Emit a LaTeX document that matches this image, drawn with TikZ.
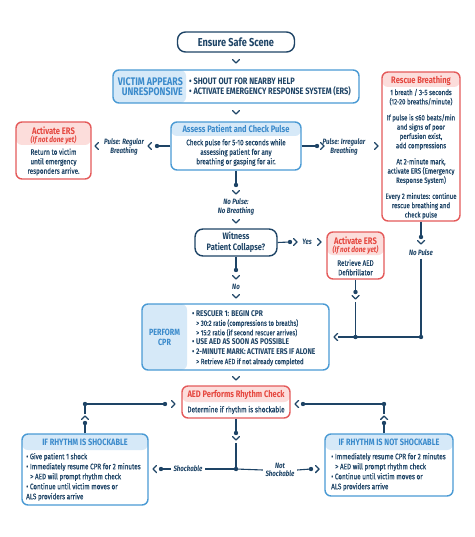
\documentclass[tikz,border=0pt]{standalone}
\usepackage{fontspec}
\setmainfont{Fira Sans}[FakeStretch=0.8]
\newfontfamily\bodyfont{Fira Sans}[FakeStretch=0.8, FakeBold=0.7]
\usetikzlibrary{positioning}
\definecolor{navy}{HTML}{1E4466}
\definecolor{bluebrd}{HTML}{4A9AD4}
\definecolor{bluetxt}{HTML}{3A8ACB}
\definecolor{bluefill}{HTML}{D6E9F8}
\definecolor{redbrd}{HTML}{E45A5A}
\definecolor{redtxt}{HTML}{E5473F}
\definecolor{redfill}{HTML}{FCDDDB}
\tikzset{
  basebox/.style={line width=1.4pt, rounded corners=6pt, fill=white, inner sep=0pt},
  navybox/.style={basebox, draw=navy, rounded corners=8pt, text=navy, align=center},
  bluebox/.style={basebox, draw=bluebrd},
  redbox/.style={basebox, draw=redbrd},
  tophead/.style 2 args={path picture={\fill[#1] (path picture bounding box.north west) rectangle ([yshift=-#2]path picture bounding box.north east);}},
  lefthead/.style 2 args={path picture={\fill[#1] (path picture bounding box.north west) rectangle ([xshift=#2]path picture bounding box.south west);}},
  hd/.style={inner sep=0pt, align=center, font=\bfseries\fontsize{9.4}{10}\selectfont},
  tx/.style={inner sep=0pt, align=center, text=navy, font=\bodyfont\fontsize{7.9}{9.5}\selectfont},
  lbl/.style={inner sep=2.5pt, align=center, text=navy, font=\bfseries\itshape\fontsize{7.7}{8.5}\selectfont},
  conn/.style={draw=navy, line width=1.1pt},
  chev/.style={draw=navy, line width=1.4pt, line cap=round, line join=round}
}
\begin{document}
\begin{tikzpicture}[x=1pt,y=1pt]
  \useasboundingbox (0,0) rectangle (474,-537);
  % boxes
  \node[navybox, minimum width=117pt, minimum height=20pt, font=\bfseries\fontsize{11.5}{12}\selectfont] (safe) at (236,-42) {Ensure Safe Scene};
  \node[bluebox, lefthead={bluefill}{73pt}, minimum width=246pt, minimum height=33pt] (victim) at (236,-86.5) {};
  \node[hd, text=bluetxt, anchor=east, align=right, font=\bfseries\fontsize{11}{10}\selectfont] (victimhd) at (183,-87) {VICTIM APPEARS\\UNRESPONSIVE};
  \node[tx, anchor=west, align=left, font=\bfseries\fontsize{9.3}{10}\selectfont] (victimtx) at (189,-87) {• SHOUT OUT FOR NEARBY HELP\\• ACTIVATE EMERGENCY RESPONSE SYSTEM (ERS)};
  \node[bluebox, tophead={bluefill}{14pt}, minimum width=130pt, minimum height=48pt] (assess) at (236,-146) {};
  \node[hd, text=bluetxt] (assesshd) at (236,-129) {Assess Patient and Check Pulse};
  \node[tx] (assesstx) at (236,-152.5) {Check pulse for 5-10 seconds while\\assessing patient for any\\breathing or gasping for air.};
  \node[redbox, tophead={redfill}{23pt}, minimum width=75pt, minimum height=57pt] (ers1) at (53.5,-150.5) {};
  \node[hd, text=redtxt, font=\bfseries\fontsize{9.5}{10}\selectfont] (ers1hd) at (53.5,-131) {Activate ERS};
  \node[lbl, inner sep=0pt, text=redtxt, font=\bfseries\itshape\fontsize{8}{8}\selectfont] (ers1sub) at (53.5,-139.5) {(If not done yet)};
  \node[tx] (ers1tx) at (53.5,-162) {Return to victim\\until emergency\\responders arrive.};
  \node[redbox, tophead={redfill}{15pt}, minimum width=78pt, minimum height=149pt] (rescue) at (421,-146.5) {};
  \node[hd, text=redtxt] (rescuehd) at (421,-80.5) {Rescue Breathing};
  \node[tx, font=\bodyfont\fontsize{7.6}{9.3}\selectfont] (rescuetx) at (421,-154) {1 breath / 3-5 seconds\\(12-20 breaths/minute)\\[6.7pt]If pulse is ≤60 beats/min\\and signs of poor\\perfusion exist,\\add compressions\\[6.7pt]At 2-minute mark,\\activate ERS (Emergency\\Response System)\\[6.7pt]Every 2 minutes: continue\\rescue breathing and\\check pulse};
  \node[navybox, minimum width=82pt, minimum height=27pt, font=\bfseries\fontsize{9.3}{11}\selectfont] (witness) at (236,-242.5) {Witness\\Patient Collapse?};
  \node[redbox, tophead={redfill}{23pt}, minimum width=57pt, minimum height=47pt] (ers2) at (355.5,-255.5) {};
  \node[hd, text=redtxt, font=\bfseries\fontsize{9.5}{10}\selectfont] (ers2hd) at (355.5,-241) {Activate ERS};
  \node[lbl, inner sep=0pt, text=redtxt, font=\bfseries\itshape\fontsize{8}{8}\selectfont] (ers2sub) at (355.5,-249.5) {(If not done yet)};
  \node[tx] (ers2tx) at (355.5,-267.5) {Retrieve AED\\Defibrillator};
  \node[bluebox, lefthead={bluefill}{45pt}, minimum width=187pt, minimum height=66pt] (cpr) at (235.5,-337) {};
  \node[hd, text=bluetxt, font=\bfseries\fontsize{9}{9.5}\selectfont] (cprhd) at (164.5,-337.5) {PERFORM\\CPR};
  \node[tx, anchor=west, align=left, font=\bodyfont\fontsize{7.5}{9.6}\selectfont] (cprtx) at (192,-338) {{\rmfamily\bfseries\fontsize{8.3}{9.6}\selectfont • RESCUER 1: BEGIN CPR}\\\hspace*{4pt}> 30:2 ratio (compressions to breaths)\\\hspace*{4pt}> 15:2 ratio (if second rescuer arrives)\\{\rmfamily\bfseries\fontsize{8.3}{9.6}\selectfont • USE AED AS SOON AS POSSIBLE}\\{\rmfamily\bfseries\fontsize{8.3}{9.6}\selectfont • 2-MINUTE MARK: ACTIVATE ERS IF ALONE}\\\hspace*{4pt}> Retrieve AED if not already completed};
  \node[redbox, tophead={redfill}{16pt}, minimum width=108pt, minimum height=32pt] (aed) at (236,-402) {};
  \node[hd, text=redtxt] (aedhd) at (236,-394.5) {AED Performs Rhythm Check};
  \node[tx, font=\bodyfont\fontsize{8.1}{9.5}\selectfont] (aedtx) at (236,-410) {Determine if rhythm is shockable};
  \node[bluebox, tophead={bluefill}{16pt}, minimum width=126pt, minimum height=71pt] (shock) at (85,-469.5) {};
  \node[hd, text=bluetxt, font=\bfseries\fontsize{9.2}{10}\selectfont] (shockhd) at (85,-442.5) {IF RHYTHM IS SHOCKABLE};
  \node[tx, anchor=west, align=left, font=\bodyfont\fontsize{7.9}{10}\selectfont] (shocktx) at (26,-477) {• Give patient 1 shock\\• Immediately resume CPR for 2 minutes\\\hspace*{4pt}> AED will prompt rhythm check\\• Continue until victim moves or\\ALS providers arrive};
  \node[bluebox, tophead={bluefill}{16pt}, minimum width=128pt, minimum height=62pt] (noshock) at (389,-465) {};
  \node[hd, text=bluetxt, font=\bfseries\fontsize{9.2}{10}\selectfont] (noshockhd) at (389,-442.5) {IF RHYTHM IS NOT SHOCKABLE};
  \node[tx, anchor=west, align=left, font=\bodyfont\fontsize{7.9}{10}\selectfont] (noshocktx) at (331,-472) {• Immediately resume CPR for 2 minutes\\\hspace*{4pt}> AED will prompt rhythm check\\• Continue until victim moves or\\ALS providers arrive};
  % labels
  \node[lbl] (pulsereg) at (124,-147) {Pulse: Regular\\Breathing};
  \node[lbl] (pulseirr) at (344,-147) {Pulse: Irregular\\Breathing};
  \node[lbl] (nopulse) at (236,-207) {No Pulse:\\No Breathing};
  \node[lbl] (yes) at (307,-242) {Yes};
  \node[lbl] (no) at (236,-287) {No};
  \node[lbl] (nopulse2) at (421,-253) {No Pulse};
  \node[lbl] (shk) at (188,-469) {Shockable};
  \node[lbl] (notshk) at (280,-470) {Not\\Shockable};
  % connectors
  \coordinate (regdot) at (157,-146);
  \coordinate (irrdot) at (317,-146);
  \coordinate (assessdot) at (236,-185);
  \coordinate (yesdot) at (290,-242);
  \coordinate (nodot) at (236,-270);
  \coordinate (rescuedot) at (421,-237);
  \coordinate (ersdot) at (355.5,-292);
  \coordinate (ersjoin) at (355.5,-337);
  \coordinate (pulsejoin) at (421,-337);
  \coordinate (cprin) at (338,-337);
  \coordinate (shockdot) at (85,-423);
  \coordinate (shockcorner) at (85,-404);
  \coordinate (shockin) at (165,-404);
  \coordinate (noshockdot) at (384,-423);
  \coordinate (noshockcorner) at (384,-404);
  \coordinate (noshockin) at (303,-404);
  \coordinate (aeddot) at (236,-433);
  \coordinate (rhythmjoin) at (236,-469);
  \coordinate (shkdot) at (161,-469);
  \coordinate (notshkdot) at (311,-469);
  \draw[conn] (assess.west) -- (regdot);
  \draw[conn] (assess.east) -- (irrdot);
  \draw[conn] (assess.south) -- (assessdot);
  \draw[conn] (witness.east) -- (yesdot);
  \draw[conn] (witness.south) -- (nodot);
  \draw[conn] (rescue.south) -- (rescuedot);
  \draw[conn] (nopulse2.south) -- (pulsejoin) -- (cprin);
  \draw[conn] (ers2.south) -- (ersdot);
  \draw[conn] ([yshift=-10pt]ersdot) -- (ersjoin);
  \draw[conn] (shock.north) -- (shockdot);
  \draw[conn] ([yshift=9pt]shockdot) -- (shockcorner) -- (shockin);
  \draw[conn] (noshockdot |- noshock.north) -- (noshockdot);
  \draw[conn] ([yshift=9pt]noshockdot) -- (noshockcorner) -- (noshockin);
  \draw[conn] (aed.south) -- (aeddot);
  \draw[conn] ([yshift=-10pt]aeddot) -- (rhythmjoin);
  \draw[conn] (rhythmjoin) -- (shk.east);
  \draw[conn] (shk.west) -- (shkdot);
  \draw[conn] (rhythmjoin) -- (notshk.west);
  \draw[conn] (notshk.east) -- (notshkdot);
  \fill[navy] (regdot) circle (2.2pt);
  \fill[navy] (irrdot) circle (2.2pt);
  \fill[navy] (assessdot) circle (2.2pt);
  \fill[navy] (yesdot) circle (2.2pt);
  \fill[navy] (nodot) circle (2.2pt);
  \fill[navy] (rescuedot) circle (2.2pt);
  \fill[navy] (ersdot) circle (2.2pt);
  \fill[navy] (ersjoin) circle (2.2pt);
  \fill[navy] (pulsejoin) circle (2.2pt);
  \fill[navy] (shockdot) circle (2.2pt);
  \fill[navy] (shockcorner) circle (2.2pt);
  \fill[navy] (shockin) circle (2.2pt);
  \fill[navy] (noshockdot) circle (2.2pt);
  \fill[navy] (noshockcorner) circle (2.2pt);
  \fill[navy] (noshockin) circle (2.2pt);
  \fill[navy] (aeddot) circle (2.2pt);
  \fill[navy] (rhythmjoin) circle (2.2pt);
  \fill[navy] (shkdot) circle (2.2pt);
  \fill[navy] (notshkdot) circle (2.2pt);
  % chevrons
  \draw[chev] (232.5,-59.5) -- (236,-63) -- (239.5,-59.5);
  \draw[chev] (232.5,-110.5) -- (236,-114) -- (239.5,-110.5);
  \draw[chev] (232.5,-190.5) -- (236,-194) -- (239.5,-190.5);
  \draw[chev] (232.5,-219.5) -- (236,-223) -- (239.5,-219.5);
  \draw[chev] (232.5,-275.5) -- (236,-279) -- (239.5,-275.5);
  \draw[chev] (232.5,-294.5) -- (236,-298) -- (239.5,-294.5);
  \draw[chev] (232.5,-376.5) -- (236,-380) -- (239.5,-376.5);
  \draw[chev] (232.5,-436.5) -- (236,-440) -- (239.5,-436.5);
  \draw[chev] (352,-295.5) -- (355.5,-299) -- (359,-295.5);
  \draw[chev] (417.5,-240.5) -- (421,-244) -- (424.5,-240.5);
  \draw[chev] (81.5,-419.5) -- (85,-416) -- (88.5,-419.5);
  \draw[chev] (380.5,-419.5) -- (384,-416) -- (387.5,-419.5);
  \draw[chev] (151.5,-142.5) -- (148,-146) -- (151.5,-149.5);
  \draw[chev] (98.5,-142.5) -- (95,-146) -- (98.5,-149.5);
  \draw[chev] (337.5,-333.5) -- (334,-337) -- (337.5,-340.5);
  \draw[chev] (298.5,-400.5) -- (295,-404) -- (298.5,-407.5);
  \draw[chev] (156.5,-465.5) -- (153,-469) -- (156.5,-472.5);
  \draw[chev] (320.5,-142.5) -- (324,-146) -- (320.5,-149.5);
  \draw[chev] (374.5,-142.5) -- (378,-146) -- (374.5,-149.5);
  \draw[chev] (293.5,-238.5) -- (297,-242) -- (293.5,-245.5);
  \draw[chev] (317.5,-238.5) -- (321,-242) -- (317.5,-245.5);
  \draw[chev] (171.5,-400.5) -- (175,-404) -- (171.5,-407.5);
  \draw[chev] (315.5,-465.5) -- (319,-469) -- (315.5,-472.5);
\end{tikzpicture}
\end{document}
